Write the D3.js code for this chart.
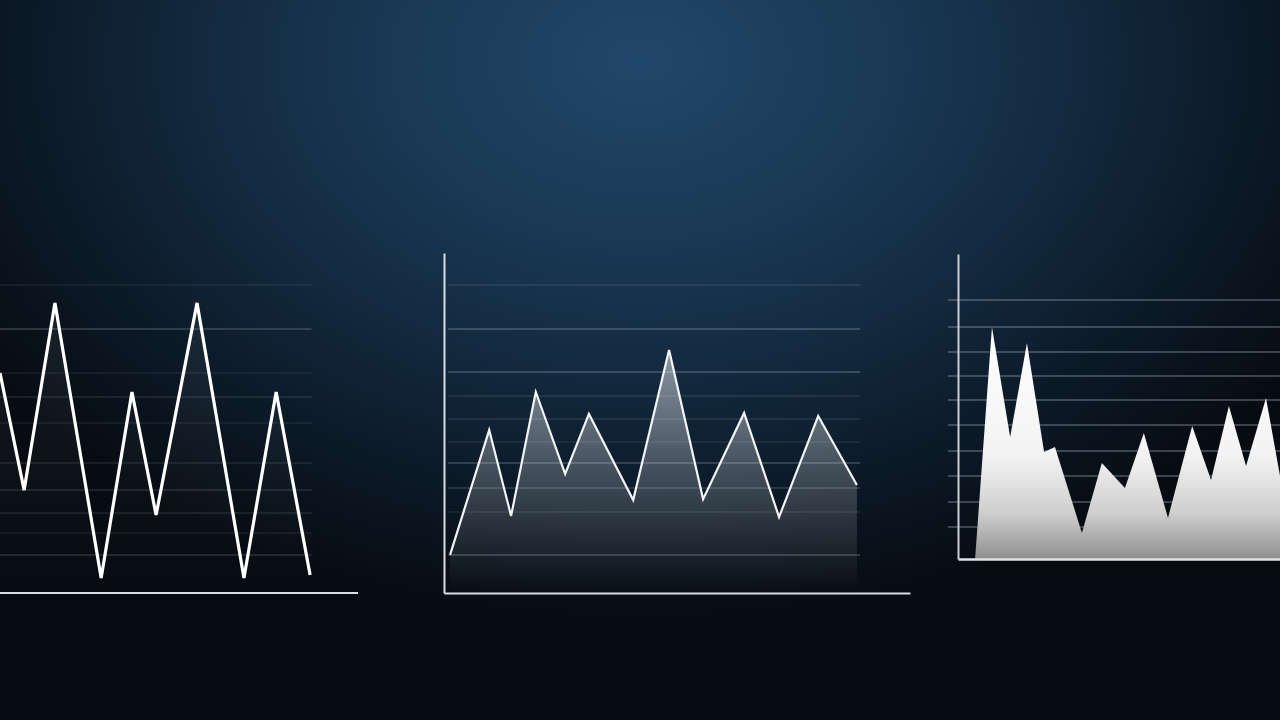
<!DOCTYPE html>
<html><head><meta charset="utf-8">
<script src="https://cdn.jsdelivr.net/npm/d3@7"></script>
<style>html,body{margin:0;padding:0;background:#070b10;overflow:hidden}</style>
</head><body>
<svg id="c" width="1280" height="720"></svg>
<script>
// ---- data (all values in chart units 0..100) ----
const leftX   = [0, 6.9, 15.7, 28.9, 37.7, 44.6, 56.3, 69.7, 78.9, 88.6];
const leftY   = [73.3, 34.3, 96.7, 5, 67, 26, 96.7, 5, 67, 6];
const leftGrid = [12.7, 20, 26.7, 34.3, 43.3, 56.7, 65.3, 73.3, 88, 102.7];

const midX    = [1.3, 9.7, 14.4, 19.7, 26.0, 31.1, 40.6, 48.3, 55.6, 64.4, 71.9, 80.3, 88.6];
const midY    = [12.7, 54.3, 25.7, 67, 39.7, 59.7, 31, 81, 31.3, 60, 25.3, 59, 36];
const midGrid = [12.7, 27, 35, 43.3, 50.3, 58, 65.7, 73.7, 88, 102.7];

const rightX  = [4.9, 9.7, 14.9, 19.7, 24.6, 27.7, 35.4, 41.1, 47.7, 53.1, 60, 66.9, 72.3, 77.4, 82.3, 88, 93.5];
const rightY  = [0.3, 77.3, 40.7, 72, 35.7, 37.3, 8.7, 32, 23.7, 42, 13.7, 44.3, 26.3, 51, 31, 53.7, 18];
const rightGrid = [10.7, 19, 27.7, 36, 44.7, 53, 61, 69, 77.3, 86.3];

const svg = d3.select("#c");
const defs = svg.append("defs");

// background
const bg = defs.append("radialGradient").attr("id","bg")
  .attr("gradientUnits","userSpaceOnUse").attr("cx",640).attr("cy",60).attr("r",780)
  .attr("gradientTransform","translate(640,60) scale(1,0.72) translate(-640,-60)");
[[0,"#21476a"],[0.3,"#1a3a56"],[0.55,"#132a40"],[0.78,"#0c1a28"],[1,"#070c12"]]
  .forEach(([o,c])=>bg.append("stop").attr("offset",o).attr("stop-color",c));
svg.append("rect").attr("width",1280).attr("height",720).attr("fill","url(#bg)");

const midFill = defs.append("linearGradient").attr("id","midFill")
  .attr("gradientUnits","userSpaceOnUse").attr("x1",0).attr("x2",0).attr("y1",350).attr("y2",592);
[[0,"#ffffff",0.5],[0.5,"#ffffff",0.22],[1,"#ffffff",0]]
  .forEach(([o,c,a])=>midFill.append("stop").attr("offset",o).attr("stop-color",c).attr("stop-opacity",a));

const leftFill = defs.append("linearGradient").attr("id","leftFill")
  .attr("gradientUnits","userSpaceOnUse").attr("x1",0).attr("x2",0).attr("y1",300).attr("y2",590);
[[0,"#ffffff",0.06],[1,"#ffffff",0]]
  .forEach(([o,c,a])=>leftFill.append("stop").attr("offset",o).attr("stop-color",c).attr("stop-opacity",a));

const rightFill = defs.append("linearGradient").attr("id","rightFill")
  .attr("gradientUnits","userSpaceOnUse").attr("x1",0).attr("x2",0).attr("y1",327).attr("y2",559);
[[0,"#ffffff"],[0.55,"#f3f3f3"],[0.8,"#cfcfcf"],[1,"#8f8f8f"]]
  .forEach(([o,c])=>rightFill.append("stop").attr("offset",o).attr("stop-color",c));

const toPts = (xs, ys) => xs.map((x,i)=>({x, y: ys[i]}));

// ---- left panel ----
{
  const x = d3.scaleLinear().domain([0,100]).range([0,350]);
  const y = d3.scaleLinear().domain([0,100]).range([593,293]);
  const g = svg.append("g");
  g.selectAll("line.grid").data(leftGrid).join("line")
    .attr("x1",x(0)).attr("x2",x(89)).attr("y1",d=>y(d)).attr("y2",d=>y(d))
    .attr("stroke","#7f8c99").attr("stroke-opacity",(d,i)=>[0.3,0.15,0.2,0.25,0.2,0.15,0.22,0.15,0.4,0.15][i]).attr("stroke-width",1.5);
  const pts = toPts(leftX, leftY);
  g.append("path").datum(pts)
    .attr("d", d3.area().x(d=>x(d.x)).y0(y(0)).y1(d=>y(d.y)))
    .attr("fill","url(#leftFill)");
  g.append("path").datum(pts)
    .attr("d", d3.line().x(d=>x(d.x)).y(d=>y(d.y)))
    .attr("fill","none").attr("stroke","#ffffff").attr("stroke-width",3.2).attr("stroke-linejoin","miter");
  g.append("g").attr("transform",`translate(0,${y(0)})`)
    .call(d3.axisBottom(x).ticks(0).tickSize(0).tickSizeOuter(0))
    .call(a=>a.select(".domain").attr("d",`M${x(0)},0H${x(102.3)}`).attr("stroke","#d9dde2").attr("stroke-width",2));
}

// ---- middle panel ----
{
  const x = d3.scaleLinear().domain([0,100]).range([444,910]);
  const y = d3.scaleLinear().domain([0,100]).range([593,293]);
  const g = svg.append("g");
  g.selectAll("line.grid").data(midGrid).join("line")
    .attr("x1",x(0.9)).attr("x2",x(89.3)).attr("y1",d=>y(d)).attr("y2",d=>y(d))
    .attr("stroke","#8a98a6").attr("stroke-opacity",(d,i)=>[0.4,0.15,0.3,0.4,0.15,0.2,0.2,0.45,0.45,0.2][i]).attr("stroke-width",1.5);
  const pts = toPts(midX, midY);
  g.append("path").datum(pts)
    .attr("d", d3.area().x(d=>x(d.x)).y0(y(0)).y1(d=>y(d.y)))
    .attr("fill","url(#midFill)");
  g.append("path").datum(pts)
    .attr("d", d3.line().x(d=>x(d.x)).y(d=>y(d.y)))
    .attr("fill","none").attr("stroke","#f2f4f6").attr("stroke-width",2.2);
  g.append("g").attr("transform",`translate(0,${y(0)})`)
    .call(d3.axisBottom(x).ticks(0).tickSizeOuter(0))
    .call(a=>a.select(".domain").attr("stroke","#d9dde2").attr("stroke-width",2));
  g.append("g").attr("transform",`translate(${x(0)},0)`)
    .call(d3.axisLeft(d3.scaleLinear().domain([0,113.3]).range([y(0),y(113.3)])).ticks(0).tickSizeOuter(0))
    .call(a=>a.select(".domain").attr("stroke","#d9dde2").attr("stroke-width",2));
}

// ---- right panel ----
{
  const x = d3.scaleLinear().domain([0,100]).range([958,1308]);
  const y = d3.scaleLinear().domain([0,100]).range([559,259]);
  const g = svg.append("g");
  g.selectAll("line.grid").data(rightGrid).join("line")
    .attr("x1",x(-2.9)).attr("x2",x(100)).attr("y1",d=>y(d)).attr("y2",d=>y(d))
    .attr("stroke","#8794a1").attr("stroke-opacity",0.55).attr("stroke-width",1.5);
  const pts = toPts(rightX, rightY);
  g.append("path").datum(pts)
    .attr("d", d3.area().x(d=>x(d.x)).y0(y(0)).y1(d=>y(d.y)))
    .attr("fill","url(#rightFill)");
  g.append("g").attr("transform",`translate(0,${y(0)})`)
    .call(d3.axisBottom(x).ticks(0).tickSizeOuter(0))
    .call(a=>a.select(".domain").attr("stroke","#e0e3e6").attr("stroke-width",2.4));
  g.append("g").attr("transform",`translate(${x(0)},0)`)
    .call(d3.axisLeft(d3.scaleLinear().domain([0,101.7]).range([y(0),y(101.7)])).ticks(0).tickSizeOuter(0))
    .call(a=>a.select(".domain").attr("stroke","#c9ced4").attr("stroke-width",2));
}
</script>
</body></html>
